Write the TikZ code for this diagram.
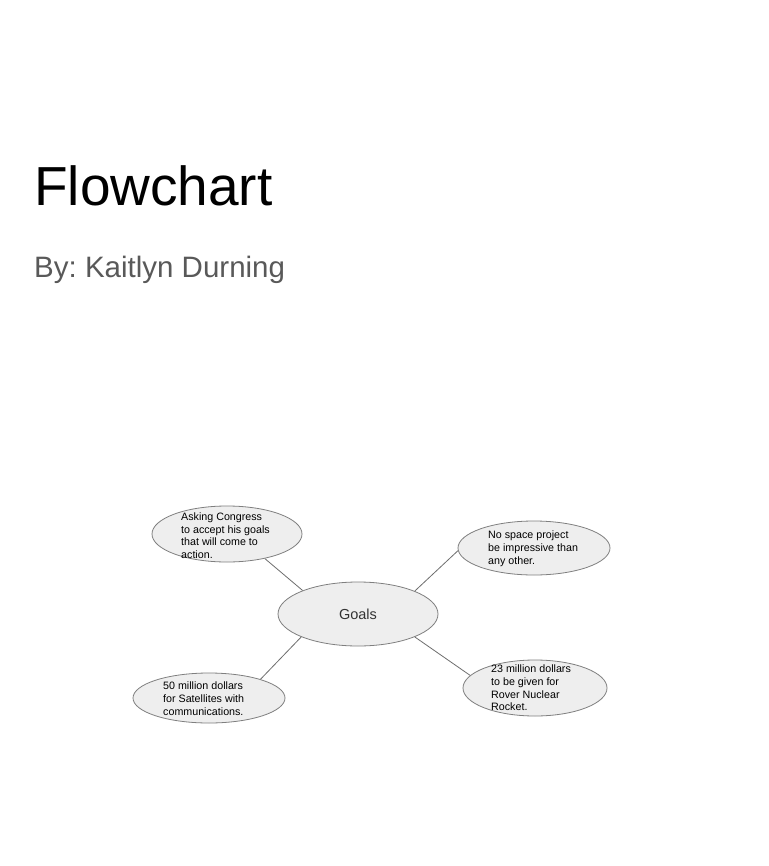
\documentclass[tikz,border=0pt]{standalone}
\usepackage{fontspec}
\setmainfont{Liberation Sans}
\usetikzlibrary{shapes.geometric}
\definecolor{ellfill}{HTML}{EEEEEE}
\definecolor{ellline}{HTML}{7F7F7F}
\definecolor{conline}{HTML}{6E6E6E}
\definecolor{subgray}{HTML}{595959}
\frenchspacing
\begin{document}
\begin{tikzpicture}[x=1pt,y=-1pt,
  bubble/.style={ellipse,draw=ellline,fill=ellfill,line width=0.8pt,inner sep=0pt},
  btext/.style={anchor=north west,inner sep=0pt,align=left,font=\fontsize{10.7}{12.6}\selectfont,text=black},
  conn/.style={draw=conline,line width=0.8pt}]
\useasboundingbox (0,0) rectangle (768,866);
\fill[white] (0,0) rectangle (768,866);
\node[anchor=base west,inner sep=0pt,font=\fontsize{55}{60}\selectfont] (title) at (34,206) {Flowchart};
\node[anchor=base west,inner sep=0pt,font=\fontsize{29.5}{32}\selectfont,text=subgray] (author) at (34,277) {By: Kaitlyn Durning};
% ellipses
\node[bubble,minimum width=160pt,minimum height=64pt] (goals) at (358,614) {};
\node[bubble,minimum width=150pt,minimum height=56pt] (ask) at (227,534) {};
\node[bubble,minimum width=152pt,minimum height=50pt] (fifty) at (209,698) {};
\node[bubble,minimum width=152pt,minimum height=54pt] (nospace) at (534,548) {};
\node[bubble,minimum width=144pt,minimum height=56pt] (twenty) at (535,688) {};
% texts
\node[font=\fontsize{14.5}{16}\selectfont,text=black!80,inner sep=0pt] (goalst) at (358,614) {Goals};
\node[btext] (askt) at (181,512.5) {Asking Congress\\to accept his goals\\that will come to\\action.};
\node[btext] (nospacet) at (488,531) {No space project\\be impressive than\\any other.};
\node[btext] (fiftyt) at (163,682) {50 million dollars\\for Satellites with\\communications.};
\node[btext] (twentyt) at (491,665) {23 million dollars\\to be given for\\Rover Nuclear\\Rocket.};
% connectors
\draw[conn] (ask.-33) -- (goals.157.7);
\draw[conn] (goals.202.3) -- (fifty.20);
\draw[conn] (goals.22.3) -- (nospace.182);
\draw[conn] (goals.-22.3) -- (twenty.169);
\end{tikzpicture}
\end{document}
